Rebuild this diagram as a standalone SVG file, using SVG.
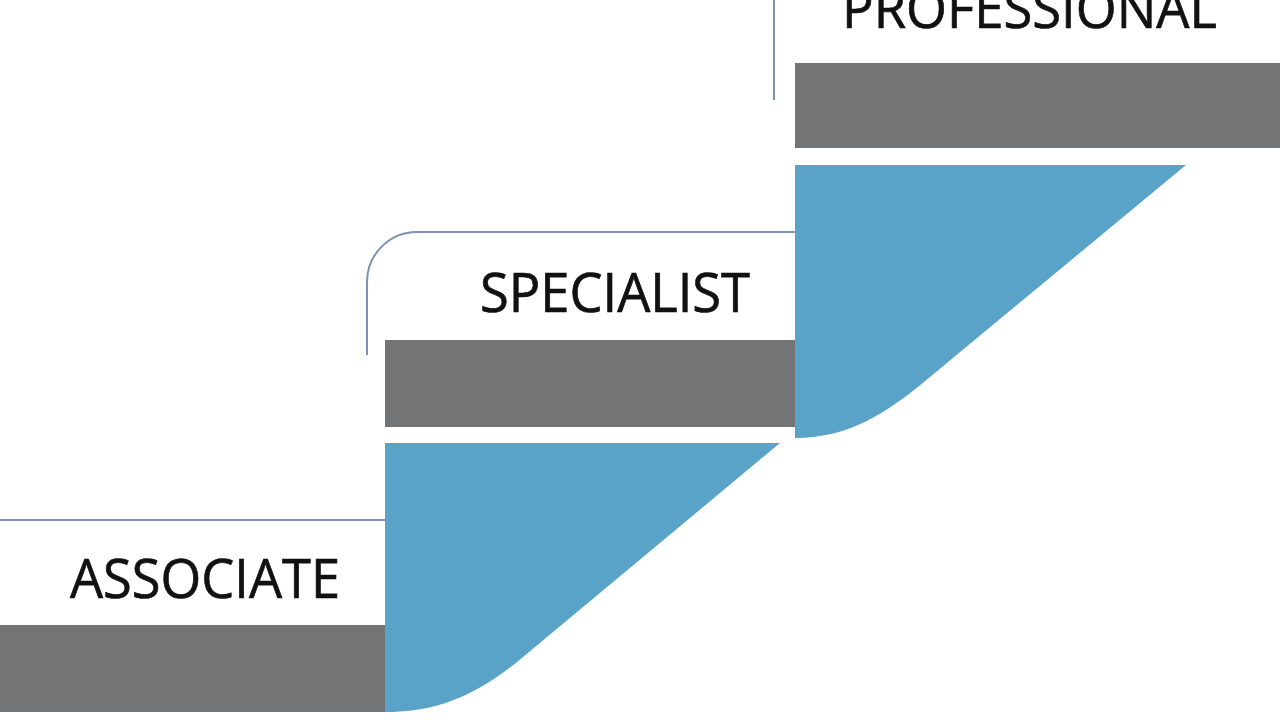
<svg xmlns="http://www.w3.org/2000/svg" width="1280" height="720" viewBox="0 0 1280 720">
<style>
.bar{fill:#737475}
.riser{fill:#5aa3c8}
.line{fill:none;stroke:#7d93b4;stroke-width:2}
.lbl{font-family:"Open Sans","Liberation Sans",sans-serif;font-size:55px;fill:#111;stroke:#111;stroke-width:0.7}
</style>
<rect width="1280" height="720" fill="#fff"/>
<g id="connectors">
<path class="line" d="M0,520 H385"/>
<path class="line" d="M367,355 V282 A50,50 0 0 1 417,232 H795"/>
<path class="line" d="M774,0 V100"/>
</g>
<g id="associate">
<rect class="bar" x="0" y="625" width="385" height="87"/>
<text class="lbl" x="70" y="598" textLength="270" lengthAdjust="spacingAndGlyphs">ASSOCIATE</text>
</g>
<g id="specialist">
<path class="riser" d="M385,443 L780,443 L523,657 C480,693 440,712 385,712 Z"/>
<rect class="bar" x="385" y="340" width="410" height="87"/>
<text class="lbl" x="480" y="312" textLength="270" lengthAdjust="spacingAndGlyphs">SPECIALIST</text>
</g>
<g id="professional">
<path class="riser" d="M795,165 L1186,165 L930,377 C888,412 850,438 795,438 Z"/>
<rect class="bar" x="795" y="63" width="485" height="85"/>
<text class="lbl" x="842" y="28" textLength="375" lengthAdjust="spacingAndGlyphs">PROFESSIONAL</text>
</g>
</svg>
